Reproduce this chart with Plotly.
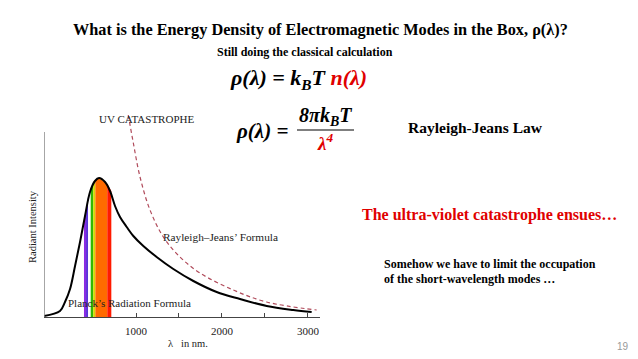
import plotly.graph_objects as go

W, H = 638, 359

# Planck curve (wavelength nm, relative intensity)
planck_x = [-70, 116, 174, 233, 291, 349, 407, 465, 523, 570, 640, 698, 756, 814, 892, 969,
            1085, 1240, 1434, 1667, 1938, 2209, 2520, 2829, 3043]
planck_y = [1, 6, 15, 28, 51, 75, 101, 125, 136, 139, 135, 126, 111, 100, 90, 81,
            71, 60, 48, 36, 25, 18, 11, 7, 5]

# Rayleigh-Jeans curve
rj_x = [910, 969, 1047, 1163, 1318, 1512, 1744, 2131, 2519, 3101]
rj_y = [202, 174, 140, 107, 80, 60, 44, 27, 15, 7]

# visible spectrum bands
band_colors = ["#8a2be2", "#5a32d8", "#33b800", "#d8d800", "#ff6a00", "#ff1a00"]
band_x = [[395, 419], [419, 442], [473, 503], [503, 527], [527, 570, 666], [666, 713]]
band_top = [[97, 108], [108, 120], [128, 135], [135, 137], [137, 139, 133], [133, 126]]

x_ticks = [1000, 1500, 2000, 2500, 3000]
x_tick_text = ["1000", "", "2000", "", "3000"]

SERIF = "Liberation Serif"

fig = go.Figure()

for col, bx, bt in zip(band_colors, band_x, band_top):
    fig.add_trace(go.Scatter(
        x=[bx[0]] + bx + [bx[-1]],
        y=[0] + bt + [0],
        fill="toself", fillcolor=col, mode="lines",
        line=dict(width=0, color=col), hoverinfo="skip", showlegend=False))

fig.add_trace(go.Scatter(x=rj_x, y=rj_y, mode="lines",
                         line=dict(color="#b04a5a", width=1.2, dash="4px,3px", shape="spline"),
                         showlegend=False))
fig.add_trace(go.Scatter(x=planck_x, y=planck_y, mode="lines",
                         line=dict(color="black", width=2, shape="spline"),
                         showlegend=False))


def px(x):
    return x / W


def py(y):
    return 1 - y / H


fig.update_layout(
    width=W, height=H, margin=dict(l=0, r=0, t=0, b=0),
    paper_bgcolor="white", plot_bgcolor="white",
    xaxis=dict(domain=[px(44), px(320)], range=[-70, 3140], showgrid=False, zeroline=False,
               showline=True, linecolor="#444", linewidth=1.2,
               ticks="inside", ticklen=4, tickcolor="#444",
               tickvals=x_ticks, ticktext=x_tick_text, ticklabelstandoff=4,
               tickfont=dict(family=SERIF, size=11, color="#222")),
    yaxis=dict(domain=[py(317), py(110)], range=[0, 207], visible=False),
)

# y axis line
fig.add_shape(type="line", xref="x", yref="y", x0=-70, x1=-70, y0=0, y1=185,
              line=dict(color="#888", width=1.5))

# fraction bar
fig.add_shape(type="line", xref="paper", yref="paper", x0=px(297), x1=px(354),
              y0=py(130), y1=py(130), line=dict(color="black", width=1.2))


def ann(text, x, y, size, color="black", family=SERIF, xanchor="center", textangle=0):
    fig.add_annotation(text=text, x=px(x), y=py(y), xref="paper", yref="paper",
                       showarrow=False, xanchor=xanchor, yanchor="middle",
                       textangle=textangle, borderpad=0,
                       font=dict(family=family, size=size, color=color))


ann("<b>What is the Energy Density of Electromagnetic Modes in the Box, ρ(λ)?</b>", 72, 30, 16.3, xanchor="left")
ann("<b>Still doing the classical calculation</b>", 216, 52, 12, xanchor="left")
ann("<b><i>ρ(λ) = k<sub>B</sub>T <span style='color:#e00000'>n(λ)</span></i></b>", 229, 79, 22, xanchor="left")
ann("<b><i>ρ(λ) =</i></b>", 235, 131, 21, xanchor="left")
ann("<b><i>8πk<sub>B</sub>T</i></b>", 325, 117, 20)
ann("<b><i>λ<sup>4</sup></i></b>", 325, 142, 19, color="#e00000")
ann("<b>Rayleigh-Jeans Law</b>", 407, 128, 15.5, xanchor="left")
ann("<b>The ultra-violet catastrophe ensues…</b>", 361, 215, 16, color="#e00000", xanchor="left")
ann("<b>Somehow we have to limit the occupation</b>", 383, 264, 12, xanchor="left")
ann("<b>of the short-wavelength modes …</b>", 383, 279, 12, xanchor="left")
ann("19", 623, 346, 10, color="#999", family="Liberation Sans")

ann("UV CATASTROPHE", 98, 119, 11, color="#222", xanchor="left")
ann("Rayleigh–Jeans’ Formula", 162, 237, 11.3, color="#222", xanchor="left")
ann("Planck’s Radiation Formula", 67, 303, 11, color="#222", xanchor="left")
ann("Radiant Intensity", 32, 227, 10.5, color="#222", textangle=-90)
ann("λ   in nm.", 188, 343, 10.5, color="#222")

fig.write_html("out.html", post_script="document.body.style.margin='0';",
               config={"displayModeBar": False})
